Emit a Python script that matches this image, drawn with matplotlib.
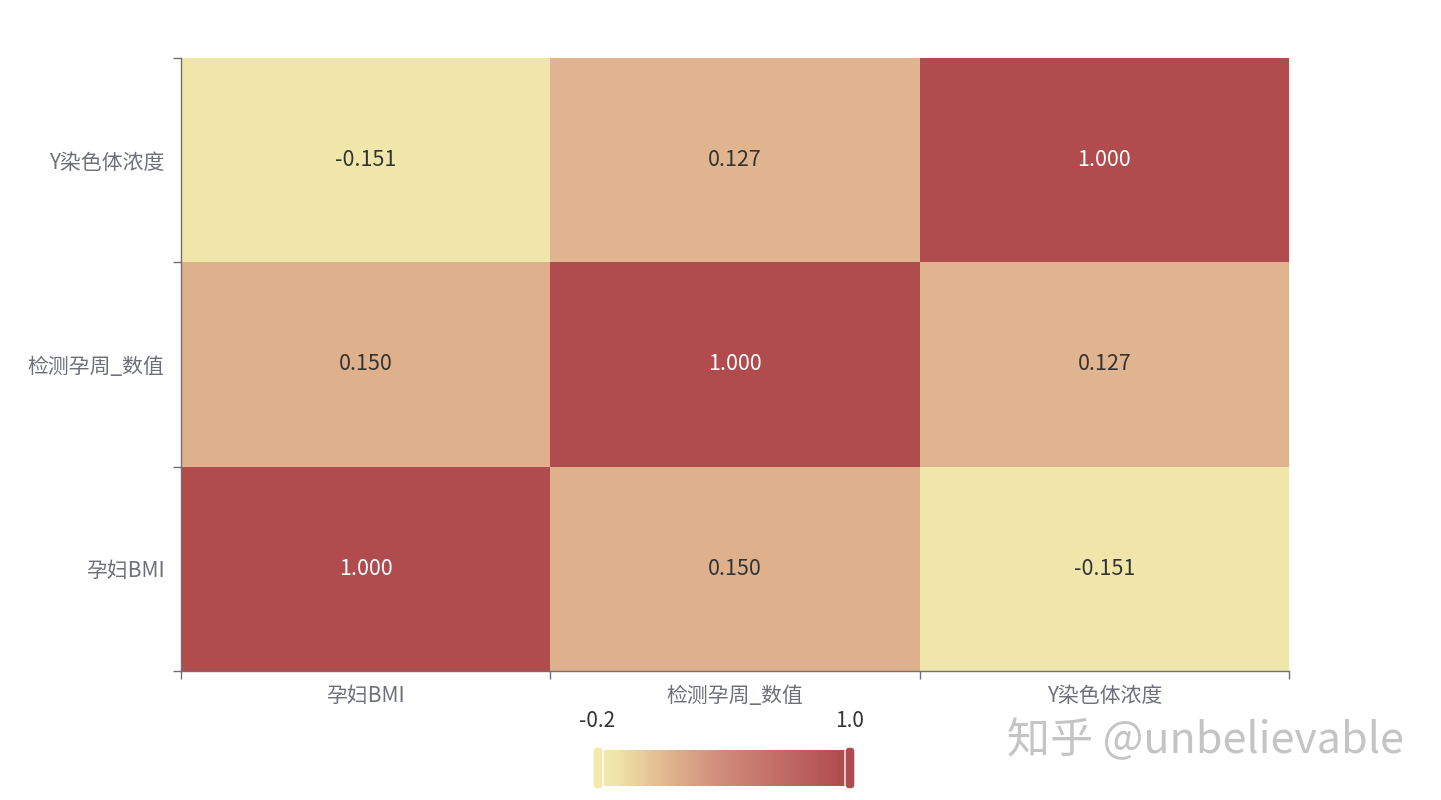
import numpy as np
import matplotlib
matplotlib.use("Agg")
import matplotlib.pyplot as plt
from matplotlib.colors import LinearSegmentedColormap, Normalize
from matplotlib.patches import FancyBboxPatch
import matplotlib.cm as cm

plt.rcParams['font.family'] = ['Noto Sans CJK SC', 'DejaVu Sans']

# variables (x axis left->right, y axis bottom->top)
labels = ['孕妇BMI', '检测孕周_数值', 'Y染色体浓度']
corr = np.array([
    [1.000, 0.150, -0.151],
    [0.150, 1.000, 0.127],
    [-0.151, 0.127, 1.000],
])
vmin, vmax = -0.2, 1.0

cmap = LinearSegmentedColormap.from_list(
    'ylrd', [(0.0, '#f2e9ab'), (0.05, '#f0e5a8'), (0.28, '#dfb28d'),
             (0.5, '#d08979'), (1.0, '#b04b4e')])
norm = Normalize(vmin=vmin, vmax=vmax)

fig = plt.figure(figsize=(14.41, 8.0), dpi=100)
W, H = 1441, 800
ax = fig.add_axes([181 / W, 1 - 671 / H, (1289 - 181) / W, (671 - 58) / H])

n = len(labels)
ax.pcolormesh(np.arange(n + 1), np.arange(n + 1), corr, cmap=cmap, norm=norm)
for i in range(n):
    for j in range(n):
        v = corr[i, j]
        ax.text(j + 0.5, i + 0.5, f'{v:.3f}', ha='center', va='center',
                fontsize=15.5, color='white' if v > 0.7 else '#333333')

ax.set_xlim(0, n)
ax.set_ylim(0, n)
ax.set_xticks(np.arange(n + 1))
ax.set_yticks(np.arange(n + 1))
ax.set_xticks(np.arange(n) + 0.5, minor=True)
ax.set_yticks(np.arange(n) + 0.5, minor=True)
ax.set_xticklabels([])
ax.set_yticklabels([])
ax.set_xticklabels(labels, minor=True)
ax.set_yticklabels(labels, minor=True)
ax.tick_params(which='major', length=6, color='#6e7079', width=1)
ax.tick_params(which='minor', length=0, labelsize=15, labelcolor='#6e7079', pad=10)
ax.tick_params(axis='y', which='minor', pad=12)
for s in ['top', 'right']:
    ax.spines[s].set_visible(False)
for s in ['left', 'bottom']:
    ax.spines[s].set_color('#6e7079')
    ax.spines[s].set_linewidth(1)

# visual map bar
cax = fig.add_axes([603 / W, 1 - 786 / H, (845 - 603) / W, (786 - 750) / H])
cb = fig.colorbar(cm.ScalarMappable(norm=norm, cmap=cmap), cax=cax, orientation='horizontal')
cb.outline.set_visible(False)
cax.set_xticks([])
cax.set_yticks([])
for x0, col in [(593, '#f2e9ab'), (845, '#b04b4e')]:
    fig.patches.append(FancyBboxPatch((x0 / 100, (H - 789) / 100), 0.10, 0.42,
                                      boxstyle='round,pad=0,rounding_size=0.045',
                                      transform=fig.dpi_scale_trans, facecolor=col,
                                      edgecolor='white', linewidth=1))
fig.text(597 / W, 1 - 721 / H, f'{vmin:.1f}', ha='center', va='center', fontsize=15, color='#333333')
fig.text(850 / W, 1 - 721 / H, f'{vmax:.1f}', ha='center', va='center', fontsize=15, color='#333333')

fig.text(1205 / W, 1 - 741 / H, '知乎 @unbelievable', ha='center', va='center',
         fontsize=31, color='#c4c4c4')

fig.savefig('out.png', dpi=100)
